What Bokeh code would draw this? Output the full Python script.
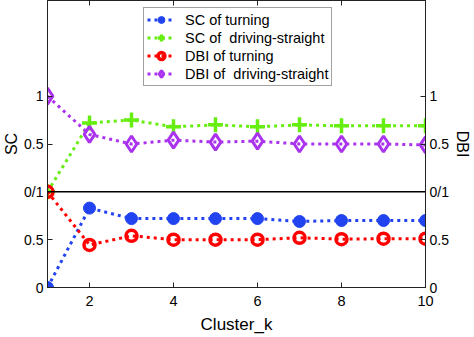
from bokeh.plotting import figure
from bokeh.models import (Range1d, LinearAxis, FixedTicker, Span, Legend, LegendItem)
from bokeh.embed import file_html
from bokeh.resources import INLINE

# ---- data ----
cluster_k = [1, 2, 3, 4, 5, 6, 7, 8, 9, 10]
sc_turning = [0.0, 0.83, 0.72, 0.72, 0.72, 0.72, 0.69, 0.70, 0.70, 0.70]
dbi_turning = [1.0, 0.445, 0.54, 0.50, 0.50, 0.50, 0.52, 0.505, 0.51, 0.51]
sc_straight = [0.0, 0.72, 0.75, 0.68, 0.70, 0.68, 0.70, 0.69, 0.69, 0.69]
dbi_straight = [1.0, 0.60, 0.50, 0.54, 0.52, 0.53, 0.50, 0.50, 0.50, 0.49]

x_ticks = [2, 4, 6, 8, 10]
y_tick_values = [0, 0.5, 1, 1.5, 2]
y_tick_labels = ["0", "0.5", "0/1", "0.5", "1"]
divider_value = 1

legend_labels = ["SC of turning", "SC of  driving-straight",
                 "DBI of turning", "DBI of  driving-straight"]

BLUE = "#2243f0"
GREEN = "#66ee11"
RED = "#ff0000"
PURPLE = "#aa33ee"
FONT = "Liberation Sans"
AXC = "#222222"

p = figure(width=474, height=337, output_backend="svg", toolbar_location=None,
           x_range=Range1d(1, 10), y_range=Range1d(0, 3),
           min_border_left=47, min_border_right=49, min_border_top=0,
           min_border_bottom=50, x_axis_location=None, y_axis_location=None)
p.extra_y_ranges = {"upper": Range1d(-1, 2)}
p.xgrid.visible = False
p.ygrid.visible = False
p.outline_line_color = AXC
p.outline_line_width = 1
p.background_fill_color = "white"
p.border_fill_color = "white"

overrides = {v: t for v, t in zip(y_tick_values, y_tick_labels)}


def style_axis(ax, label_size="14.5px", title_size="17px", show_labels=True):
    ax.axis_line_color = AXC
    ax.axis_line_width = 1
    ax.major_tick_line_color = AXC
    ax.major_tick_in = 5
    ax.major_tick_out = 0
    ax.minor_tick_line_color = None
    ax.major_label_text_font = FONT
    ax.major_label_text_color = "black"
    ax.axis_label_text_font = FONT
    ax.axis_label_text_font_style = "normal"
    ax.axis_label_text_color = "black"
    ax.axis_label_text_font_size = title_size
    if show_labels:
        ax.major_label_text_font_size = label_size
    else:
        ax.major_label_text_font_size = "0px"
        ax.major_label_text_color = None
        ax.major_label_standoff = 0


bottom = LinearAxis(ticker=FixedTicker(ticks=x_ticks), axis_label="Cluster_k")
style_axis(bottom)
bottom.major_label_standoff = 8
bottom.axis_label_standoff = 6
p.add_layout(bottom, "below")

top = LinearAxis(ticker=FixedTicker(ticks=x_ticks))
style_axis(top, show_labels=False)
p.add_layout(top, "above")

left = LinearAxis(ticker=FixedTicker(ticks=y_tick_values), axis_label="SC",
                  major_label_overrides=overrides)
style_axis(left, label_size="14px", title_size="16px")
left.major_label_standoff = 4
left.axis_label_standoff = 1
p.add_layout(left, "left")

right = LinearAxis(ticker=FixedTicker(ticks=y_tick_values), axis_label="DBI",
                   major_label_overrides=overrides)
style_axis(right, label_size="14px", title_size="16px")
right.major_label_standoff = 4
right.axis_label_standoff = 2
p.add_layout(right, "right")

p.add_layout(Span(location=divider_value, dimension="width",
                  line_color="black", line_width=1.5))

DASH = "3 4"
LW = 3

l1 = p.line(cluster_k, sc_turning, line_color=BLUE, line_width=LW, line_dash=DASH)
m1 = p.scatter(cluster_k, sc_turning, marker="circle", size=12,
               fill_color=BLUE, line_color=BLUE)

l2 = p.line(cluster_k, sc_straight, line_color=GREEN, line_width=LW, line_dash=DASH,
            y_range_name="upper")
m2 = p.scatter(cluster_k, sc_straight, marker="cross", size=15, line_width=3.5,
               line_color=GREEN, y_range_name="upper")

l3 = p.line(cluster_k, dbi_turning, line_color=RED, line_width=LW, line_dash=DASH)
m3 = p.scatter(cluster_k, dbi_turning, marker="circle", size=11, line_width=3.5,
               fill_color=None, line_color=RED)

l4 = p.line(cluster_k, dbi_straight, line_color=PURPLE, line_width=LW, line_dash=DASH,
            y_range_name="upper")
m4 = p.scatter(cluster_k, dbi_straight, marker="diamond", size=16, line_width=3,
               fill_color=None, line_color=PURPLE, y_range_name="upper")

legend = Legend(items=[
    LegendItem(label=legend_labels[0], renderers=[l1, m1]),
    LegendItem(label=legend_labels[1], renderers=[l2, m2]),
    LegendItem(label=legend_labels[2], renderers=[l3, m3]),
    LegendItem(label=legend_labels[3], renderers=[l4, m4]),
], location=(96, 201))
legend.border_line_color = "#444444"
legend.border_line_width = 1
legend.background_fill_color = "white"
legend.background_fill_alpha = 1
legend.label_text_font = FONT
legend.label_text_font_size = "14.5px"
legend.label_text_color = "black"
legend.glyph_width = 28
legend.glyph_height = 17
legend.label_height = 17
legend.label_standoff = 10
legend.spacing = 1
legend.padding = 3
legend.margin = 0
p.add_layout(legend, "center")

open("out.html", "w").write(file_html(p, INLINE))
